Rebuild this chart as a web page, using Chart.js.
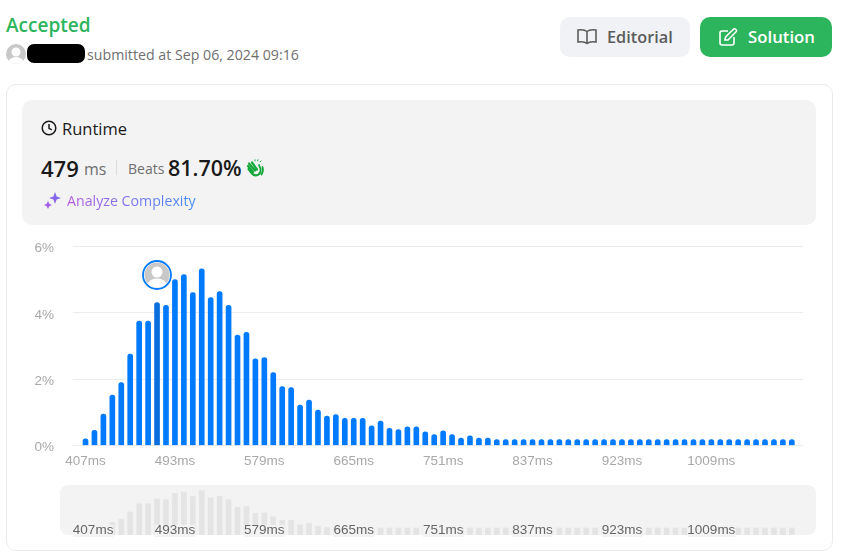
<!DOCTYPE html>
<html><head><meta charset="utf-8">
<script src="https://cdn.jsdelivr.net/npm/chart.js@4"></script>
<style>
html,body{margin:0;padding:0;background:#fff;width:841px;height:557px;overflow:hidden;font-family:"Open Sans","Noto Sans",sans-serif}
.a{position:absolute;white-space:nowrap;line-height:1}
canvas{position:absolute;left:0;top:0}
</style></head><body>
<div class="a" style="left:6px;top:16px;font-size:19px;font-weight:600;color:#2db55d">Accepted</div>
<svg class="a" style="left:6px;top:44px" width="20" height="20" viewBox="0 0 20 20"><defs><clipPath id="c1"><circle cx="10" cy="10" r="10"/></clipPath></defs><g clip-path="url(#c1)"><rect width="20" height="20" fill="#c8c8c8"/><circle cx="10" cy="8" r="4.5" fill="#fff"/><ellipse cx="10" cy="19" rx="8" ry="6" fill="#fff"/></g></svg>
<div class="a" style="left:27px;top:44px;width:58px;height:19px;background:#000;border-radius:7px"></div>
<div class="a" style="left:87px;top:48px;font-size:14.2px;color:#6f6f6f">submitted at Sep 06, 2024 09:16</div>

<div class="a" style="left:560px;top:17px;width:130px;height:40px;background:#f0f2f5;border-radius:10px"></div>
<svg class="a" style="left:577px;top:28px" width="20" height="18" viewBox="0 0 20 18" fill="none" stroke="#5c5c5c" stroke-width="1.6"><path d="M10 3.5C8 1.8 4 1.5 1 2v12c3-.5 7-.2 9 1.5 2-1.7 6-2 9-1.5V2c-3-.5-7-.2-9 1.5zM10 3.5v12"/></svg>
<div class="a" style="left:607px;top:29px;font-size:16.3px;font-weight:600;color:#5c5c5c">Editorial</div>
<div class="a" style="left:700px;top:17px;width:132px;height:40px;background:#2db55d;border-radius:10px"></div>
<svg class="a" style="left:719px;top:28px" width="19" height="18" viewBox="0 0 19 18" fill="none" stroke="#fff" stroke-width="1.6"><path d="M9 3H3a2 2 0 0 0-2 2v10a2 2 0 0 0 2 2h10a2 2 0 0 0 2-2V9"/><path d="M6 12l.6-3L14.5 1.2a1.4 1.4 0 0 1 2 0l.6.6a1.4 1.4 0 0 1 0 2L9 12z"/></svg>
<div class="a" style="left:748px;top:29px;font-size:16.8px;font-weight:600;color:#fff">Solution</div>

<div class="a" style="left:6px;top:84px;width:825px;height:465px;border:1px solid #ebebeb;border-radius:10px"></div>
<div class="a" style="left:22px;top:100px;width:794px;height:125px;background:#f3f3f3;border-radius:10px"></div>
<svg class="a" style="left:41px;top:120px" width="16" height="16" viewBox="0 0 16 16" fill="none" stroke="#1a1a1a" stroke-width="1.5"><circle cx="8" cy="8" r="6.8"/><path d="M8 4v4.3l2.8 1.6"/></svg>
<div class="a" style="left:62px;top:121px;font-size:16.5px;color:#1a1a1a">Runtime</div>
<div class="a" style="left:41px;top:157px;font-size:22px;font-weight:600;color:#1a1a1a">479</div>
<div class="a" style="left:84px;top:161px;font-size:16px;color:#6f6f6f">ms</div>
<div class="a" style="left:116px;top:160px;width:1px;height:15px;background:#dcdcdc"></div>
<div class="a" style="left:128px;top:162px;font-size:14px;color:#6f6f6f">Beats</div>
<div class="a" style="left:168px;top:157px;font-size:21.5px;font-weight:600;color:#1a1a1a">81.70%</div>
<svg class="a" style="left:246px;top:159px" width="19" height="19" viewBox="0 0 19 19" fill="none" stroke="#14a83b" stroke-width="2.2" stroke-linecap="round"><path d="M2 7l5 6M3 4.5l6 7M6 3.5l5 7M2.5 10l3.5 4.5c2 2.5 6 2.5 7.5 0"/><path d="M13 6l1.5 4c.5 2-.2 3.7-1.3 5M16.5 8c.8 2.5.5 5-1 7.5" stroke-width="1.8"/><path d="M9 .8v1M12 .8l-.4 1M15 2l-.8.8" stroke-width="1"/></svg>
<svg class="a" style="left:43px;top:191px" width="19" height="19" viewBox="0 0 19 19"><defs><linearGradient id="g1" x1="0" y1="1" x2="1" y2="0"><stop offset="0" stop-color="#b55be0"/><stop offset="1" stop-color="#6a6cf0"/></linearGradient></defs><path fill="url(#g1)" d="M12 1l1.6 4.4L18 7l-4.4 1.6L12 13l-1.6-4.4L6 7l4.4-1.6zM5 10l1.3 2.7L9 14l-2.7 1.3L5 18l-1.3-2.7L1 14l2.7-1.3z"/></svg>
<div class="a" style="left:67px;top:194px;font-size:14.2px;background:linear-gradient(90deg,#b55be0,#3f8df5);-webkit-background-clip:text;background-clip:text;color:transparent;padding-bottom:3px">Analyze Complexity</div>

<div class="a" style="left:60px;top:485px;width:756px;height:50px;background:#f3f3f3;border-radius:8px"></div>

<canvas id="miniChart" width="841" height="557"></canvas>
<canvas id="mainChart" width="841" height="557"></canvas>

<svg class="a" style="left:142px;top:260px" width="30" height="30" viewBox="0 0 30 30"><defs><clipPath id="c2"><circle cx="15" cy="15" r="12.5"/></clipPath></defs><circle cx="15" cy="15" r="14" fill="#fff" stroke="#007aff" stroke-width="1.8"/><g clip-path="url(#c2)"><rect width="30" height="30" fill="#c8c8c8"/><circle cx="15" cy="12" r="5.5" fill="#fff"/><ellipse cx="15" cy="26" rx="10" ry="7.5" fill="#fff"/></g></svg>

<script>
const tickLabels = ["407ms","493ms","579ms","665ms","751ms","837ms","923ms","1009ms"];
const yTicks = [0,2,4,6];
const userBin = 8;
const percents = [
 0.20,0.46,0.95,1.52,1.90,2.76,3.75,3.75,4.31,4.23,
 5.00,5.15,4.61,5.33,4.46,4.64,4.23,3.33,3.41,2.61,
 2.65,2.20,1.78,1.75,1.22,1.37,1.07,0.89,0.93,0.82,
 0.82,0.82,0.59,0.74,0.52,0.48,0.56,0.56,0.41,0.33,
 0.44,0.33,0.22,0.29,0.22,0.22,0.18,0.18,0.18,0.18,
 0.18,0.18,0.18,0.18,0.18,0.18,0.18,0.18,0.18,0.18,
 0.18,0.18,0.18,0.18,0.18,0.18,0.18,0.18,0.18,0.18,
 0.18,0.18,0.18,0.18,0.18,0.18,0.18,0.18,0.18,0.18
];
const points = percents.map((v,i)=>({x:i,y:v}));
const xMin=-1.4, xMax=80.25;
const font={family:'"Liberation Sans",Arial,sans-serif',size:13.5};
Chart.defaults.animation=false;
Chart.defaults.responsive=false;
Chart.defaults.devicePixelRatio=1;

new Chart(document.getElementById('mainChart'),{
 type:'bar',
 data:{datasets:[{data:points,barThickness:5,borderRadius:{topLeft:2.5,topRight:2.5},borderSkipped:'bottom',
   backgroundColor:percents.map((_,i)=>i===userBin?'#0a6fdc':'#007aff')}]},
 options:{
  layout:{padding:{left:13,right:38,top:246.5,bottom:81.5}},
  plugins:{legend:{display:false},tooltip:{enabled:false}},
  scales:{
   x:{type:'linear',offset:false,min:xMin,max:xMax,
      grid:{display:false,drawTicks:false},border:{display:false},
      afterFit:s=>{s.height=30},
      afterBuildTicks:s=>{s.ticks=tickLabels.map((_,i)=>({value:i*10}))},
      ticks:{autoSkip:false,maxRotation:0,padding:8,color:'#a8a8a8',font,callback:(v,i)=>tickLabels[i]}},
   y:{min:0,max:6,
      grid:{color:'#ececec',drawTicks:false},border:{display:false},
      afterFit:s=>{s.width=60},
      afterBuildTicks:s=>{s.ticks=yTicks.map(v=>({value:v}))},
      ticks:{padding:19,color:'#a8a8a8',font:{...font,lineHeight:'4px'},callback:v=>['',v+'%']}}
  }
 }
});

new Chart(document.getElementById('miniChart'),{
 type:'bar',
 data:{datasets:[{data:points,barThickness:5,minBarLength:7,backgroundColor:'#e4e4e4'}]},
 options:{
  layout:{padding:{left:73,right:38,top:485,bottom:22}},
  plugins:{legend:{display:false},tooltip:{enabled:false}},
  scales:{
   x:{type:'linear',offset:false,min:xMin,max:xMax,
      grid:{display:false,drawTicks:false},border:{display:false},
      afterFit:s=>{s.height=0},
      afterBuildTicks:s=>{s.ticks=tickLabels.map((_,i)=>({value:i===0?0.85:i*10}))},
      ticks:{z:1,mirror:true,autoSkip:false,maxRotation:0,padding:-3,color:'#666666',font,
        showLabelBackdrop:true,backdropColor:'#f3f3f3',backdropPadding:{top:-3,bottom:-1,left:0,right:0},
        callback:(v,i)=>tickLabels[i]}},
   y:{display:false,min:0,max:6,afterFit:s=>{s.width=0}}
  }
 }
});
</script>
</body></html>
